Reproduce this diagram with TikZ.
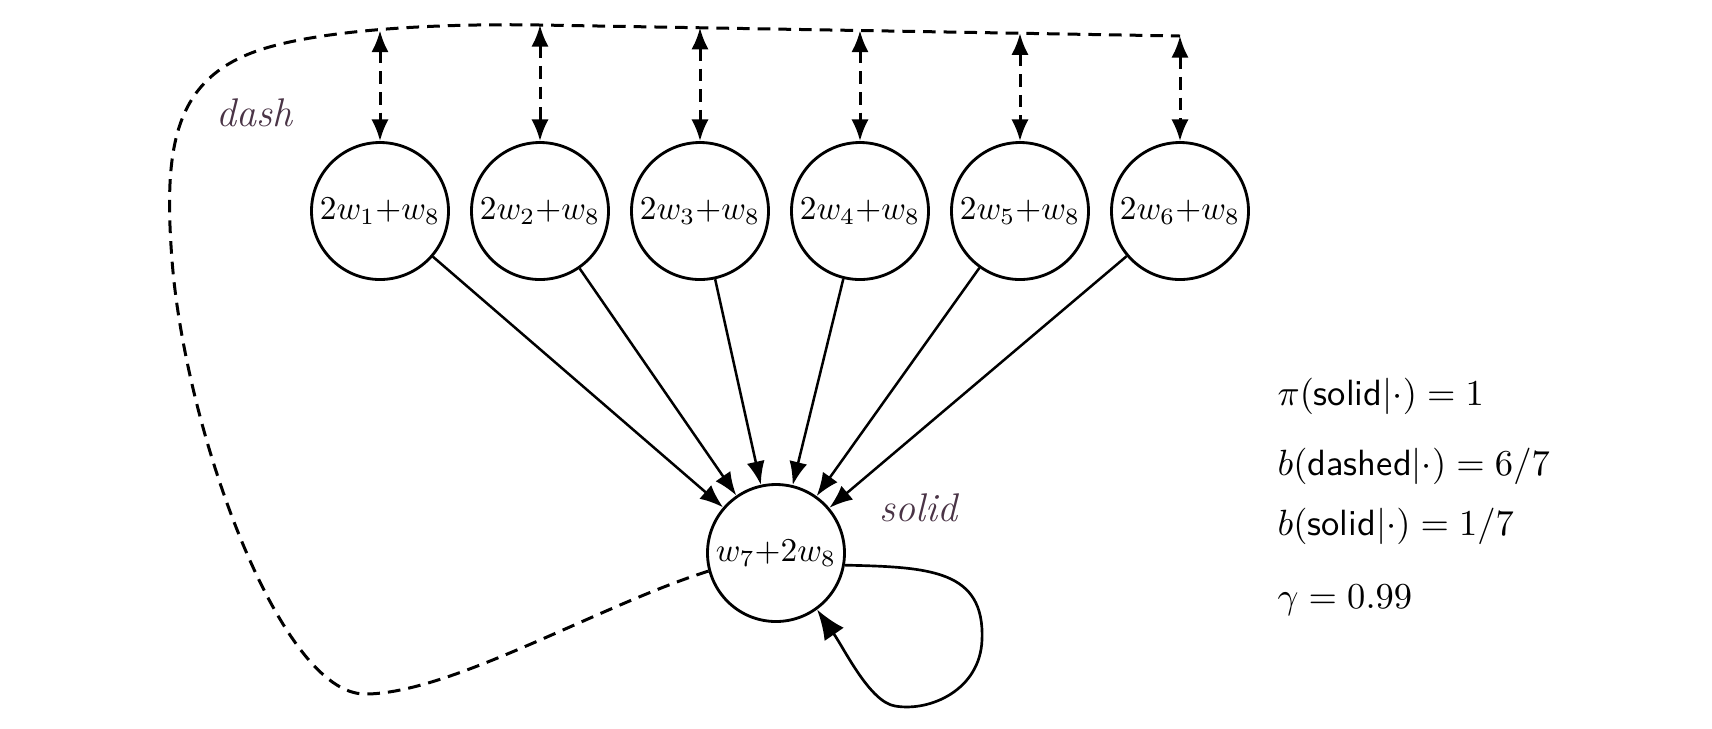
\documentclass[tikz,border=0pt]{standalone}
\usetikzlibrary{arrows.meta}
\definecolor{hand}{RGB}{74,52,70}
\begin{document}
\begin{tikzpicture}[x=0.3pt,y=-0.3pt,
  state/.style={circle,draw,line width=0.85pt,minimum size=41.1pt,inner sep=0pt,font=\fontsize{10.3}{12}\selectfont},
  tip/.style={-{Latex[length=7pt,width=5.4pt]}},
  dtip/.style={{Latex[length=6.5pt,width=5.2pt]}-{Latex[length=6.5pt,width=5.2pt]}},
  dsh/.style={line width=0.9pt,dash pattern=on 3.8pt off 2.4pt},
  sol/.style={line width=0.75pt},
  hw/.style={text=hand,font=\fontsize{12}{14}\selectfont\itshape,inner sep=0pt},
  lbl/.style={anchor=base west,font=\fontsize{10.95}{13}\selectfont,inner sep=0pt}]
\useasboundingbox (0,0) rectangle (1712,728);
% nodes
\foreach \i in {1,...,6}
  \node[state] (c\i) at ({220+160*\i},211) {$2w_{\i}{+}w_8$};
\node[state] (b) at (776,553) {$w_7{+}2w_8$};
% top points of the dashed return line
\coordinate (t1) at (380,30.5);
\coordinate (t2) at (540,25);
\coordinate (t3) at (700,27.75);
\coordinate (t4) at (860,30.5);
\coordinate (t5) at (1020,33.25);
\coordinate (t6) at (1180,36);
% dashed return path
\draw[dsh] (b.195) .. controls (600,605) and (450,694) .. (365,694)
  .. controls (280,694) and (185,430) .. (172,260)
  .. controls (163,141) and (175,72) .. (273,46)
  .. controls (340,28) and (450,23.5) .. (t2)
  -- (t6);
% dashed vertical arrows
\foreach \i in {1,...,6}
  \draw[dsh,dtip] (t\i) -- (c\i);
% solid arrows
\foreach \i in {1,...,6}
  \draw[sol,tip] (c\i) -- (b);
% self loop
\draw[line width=0.8pt,-{Latex[length=9pt,width=7pt]}] (b.-10) .. controls (930,567) and (985,570) .. (982,640)
  .. controls (980,690) and (930,712) .. (895,706)
  .. controls (870,702) and (845,650) .. (b.-54);
% handwritten labels
\node[hw] (ldash) at (254,113) {dash};
\node[hw] (lsolid) at (918,508) {solid};
% right labels
\node[lbl] (l1) at (1277,405) {$\pi(\textsf{solid}|\cdot) = 1$};
\node[lbl] (l2) at (1277,475) {$b(\textsf{dashed}|\cdot) = 6/7$};
\node[lbl] (l3) at (1277,535) {$b(\textsf{solid}|\cdot) = 1/7$};
\node[lbl] (l4) at (1277,608) {$\gamma = 0.99$};
\end{tikzpicture}
\end{document}
